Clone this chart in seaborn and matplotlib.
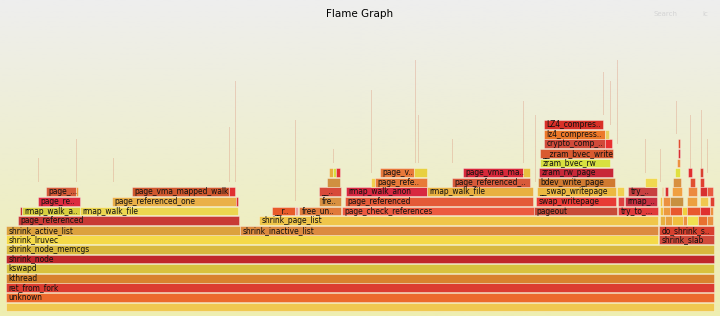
import numpy as np
import pandas as pd
import matplotlib.pyplot as plt
import seaborn as sns
from matplotlib.colors import LinearSegmentedColormap

sns.set_theme(style="white")
plt.rcParams['font.family'] = ['DejaVu Sans']

# === Data: one entry per frame (x in samples, depth = stack level) ===
frame_labels = [
    '', 'unknown', 'ret_from_fork', 'kthread', 'kswapd', 'shrink_node', 'shrink_node_memcgs',
    'shrink_lruvec', 'shrink_slab',
    'shrink_active_list', 'shrink_inactive_list', 'do_shrink_s..',
    'page_referenced', 'shrink_page_list', '', '', '', '', '', '', '',
    '', 'rmap_walk_a..', 'rmap_walk_file', '__r..', '', 'free_un..', 'page_check_references',
    'pageout', 'try_to_...', '', '', '', '', '', '', '',
    'page_re..', 'page_referenced_one', '', 'fre..', 'page_referenced', 'swap_writepage', '',
    'rmap_..', '', '', '', '', '', '',
    'page_...', '', 'page_vma_mapped_walk', '', '__..', 'rmap_walk_anon', 'rmap_walk_file',
    '__swap_writepage', '', 'try_..', '', '', '', '', '', '',
    '', '', 'page_refe..', 'page_referenced_..', 'bdev_write_page', '', '', '', '',
    '', '', '', 'page_v..', '', 'page_vma_ma..', '', 'zram_rw_page', '', '', '',
    'zram_bvec_rw', '',
    '__zram_bvec_write', '',
    'crypto_comp_..', '', '',
    'lz4_compress..', '',
    'LZ4_compres..',
]
frame_depths = [
    0, 1, 2, 3, 4, 5, 6,
    7, 7,
    8, 8, 8,
    9, 9, 9, 9, 9, 9, 9, 9, 9,
    10, 10, 10, 10, 10, 10, 10,
    10, 10, 10, 10, 10, 10, 10, 10, 10,
    11, 11, 11, 11, 11, 11, 11,
    11, 11, 11, 11, 11, 11, 11,
    12, 12, 12, 12, 12, 12, 12,
    12, 12, 12, 12, 12, 12, 12, 12, 12,
    13, 13, 13, 13, 13, 13, 13, 13, 13,
    14, 14, 14, 14, 14, 14, 14, 14, 14, 14, 14,
    15, 15,
    16, 16,
    17, 17, 17,
    18, 18,
    19,
]
frame_starts = [
    0, 0, 0, 0, 0, 0, 0,
    0, 653,
    0, 234, 653,
    12, 253, 654, 659, 666, 677, 681, 692, 701,
    14, 16, 74, 266, 289, 293, 336,
    528, 612, 654, 657, 664, 676, 681, 694, 704,
    32, 106, 230, 313, 339, 530, 612,
    619, 654, 657, 664, 681, 694, 704,
    40, 70, 126, 223, 313, 340, 421,
    531, 611, 622, 656, 659, 666, 682, 694, 701,
    321, 365, 369, 446, 532, 639, 667, 684, 694,
    323, 327, 330, 374, 408, 457, 517, 533, 669, 682, 694,
    534, 671,
    534, 672,
    538, 599, 672,
    538, 599,
    538,
]
frame_ends = [
    708, 708, 708, 708, 708, 708, 708,
    652, 708,
    234, 652, 708,
    233, 652, 659, 666, 677, 681, 692, 701, 707,
    16, 74, 232, 289, 292, 335, 528,
    611, 652, 657, 664, 676, 681, 694, 704, 707,
    74, 230, 232, 335, 527, 610, 618,
    651, 656, 664, 677, 691, 702, 708,
    70, 72, 223, 229, 335, 421, 527,
    610, 618, 651, 657, 662, 676, 691, 701, 707,
    334, 369, 421, 524, 609, 651, 675, 689, 698,
    327, 330, 334, 408, 421, 517, 524, 607, 674, 686, 697,
    604, 674,
    607, 674,
    599, 606, 674,
    599, 603,
    597,
]

# thin one-sample stacks rising above the main frames
spike_x = [32, 70, 107, 223, 229, 289, 327, 365, 409, 412, 446, 517, 529,
           597, 604, 611, 639, 654, 670, 684, 695, 701]
spike_base = [13, 13, 13, 13, 13, 11, 15, 14, 15, 15, 15, 15, 13,
              20, 19, 17, 14, 13, 18, 14, 14, 14]
spike_top = [15.5, 17.5, 15.5, 18.7, 23.5, 19.5, 16.5, 22.6, 25.7, 20, 17.5, 21.5, 20,
             24.5, 23.5, 25.7, 17.5, 16.5, 21.5, 20, 20.5, 17.5]

# === Styles ===
frame_colors = [
    '#f0c850', '#ec6a2c', '#dc3c30', '#d8822e', '#d8c23e', '#c0282a', '#d8b83e',
    '#f5da48', '#d04a3a',
    '#dca23e', '#dc8a40', '#d8402e',
    '#c83a35', '#f0c64a', '#e8b040', '#e8a040', '#f0c040', '#ec9040', '#f0e050', '#e87030', '#e89040',
    '#c83030', '#d8d040', '#ecd650', '#e85a2a', '#e8a0a0', '#e07a3a', '#ec5a40',
    '#c84a38', '#e03a3a', '#f0c040', '#ec9a40', '#e8582e', '#f0d040', '#e8582e', '#e03030', '#ec9040',
    '#dc2c40', '#eab048', '#dc3030', '#d89040', '#e45a38', '#e83a35', '#e04040',
    '#c83040', '#f0c040', '#ec9040', '#c89040', '#eca040', '#f0c850', '#e04030',
    '#d45a38', '#eca040', '#d0582e', '#e03030', '#d84a3a', '#d82840', '#e8b040',
    '#ecb840', '#f0d050', '#c84040', '#e8a040', '#d83030', '#f0a040', '#ec8a40', '#d83030', '#e85a40',
    '#d09040', '#f0d050', '#e87a38', '#d85a3a', '#d07a30', '#f0d850', '#d89040', '#e05030', '#e04030',
    '#e8b040', '#d8e040', '#e03030', '#e8783a', '#e8d040', '#d8283a', '#e8c040', '#c82838',
    '#e0e040', '#e03030', '#d84030',
    '#d8e040', '#ec9040',
    '#d85a30', '#d83030',
    '#d04a3a', '#e83030', '#e05030',
    '#ec7828', '#e8d060',
    '#d83028',
]

frames = pd.DataFrame({'label': frame_labels, 'depth': frame_depths,
                       'start': frame_starts, 'end': frame_ends, 'color': frame_colors})
frames['width'] = frames['end'] - frames['start']

row_px = 9.6
fig = plt.figure(figsize=(7.2, 3.16), dpi=100)
ax = fig.add_axes([0, 0, 1, 1])
ymin = -9 / row_px
ymax = ymin + 316 / row_px
ax.set_xlim(-6, 714)
ax.set_ylim(ymin, ymax)
ax.axis('off')

# background gradient like the svg flame graph
bg = LinearSegmentedColormap.from_list('bg', ['#eeeeb0', '#eeeeee'])
ax.imshow(np.linspace(0, 1, 256).reshape(-1, 1), cmap=bg, aspect='auto', origin='lower',
          extent=[-6, 714, ymin, ymax], zorder=0)

ax.bar(spike_x, np.array(spike_top) - np.array(spike_base), bottom=spike_base, width=0.8,
       color='#d9826a', alpha=0.3, linewidth=0, align='edge', zorder=1)

ax.barh(frames['depth'], frames['width'], left=frames['start'], height=0.9,
        color=frames['color'], edgecolor=(1, 1, 1, 0.6), linewidth=0.4, zorder=2)

for _, f in frames.iterrows():
    if f['label']:
        ax.text(f['start'] + 2.5, f['depth'], f['label'], va='center', ha='left',
                fontsize=6, fontstretch='condensed', color='#111111', zorder=3, clip_on=True)

fig.text(0.5, 1 - 14 / 316, 'Flame Graph', ha='center', va='center', fontsize=7.5, color='#000000')
fig.text(666 / 720, 1 - 14 / 316, 'Search', ha='center', va='center', fontsize=5, color='#d4d4d4')
fig.text(705 / 720, 1 - 14 / 316, 'ic', ha='center', va='center', fontsize=5, color='#d4d4d4')

plt.savefig('out.png', dpi=100)
plt.close()
